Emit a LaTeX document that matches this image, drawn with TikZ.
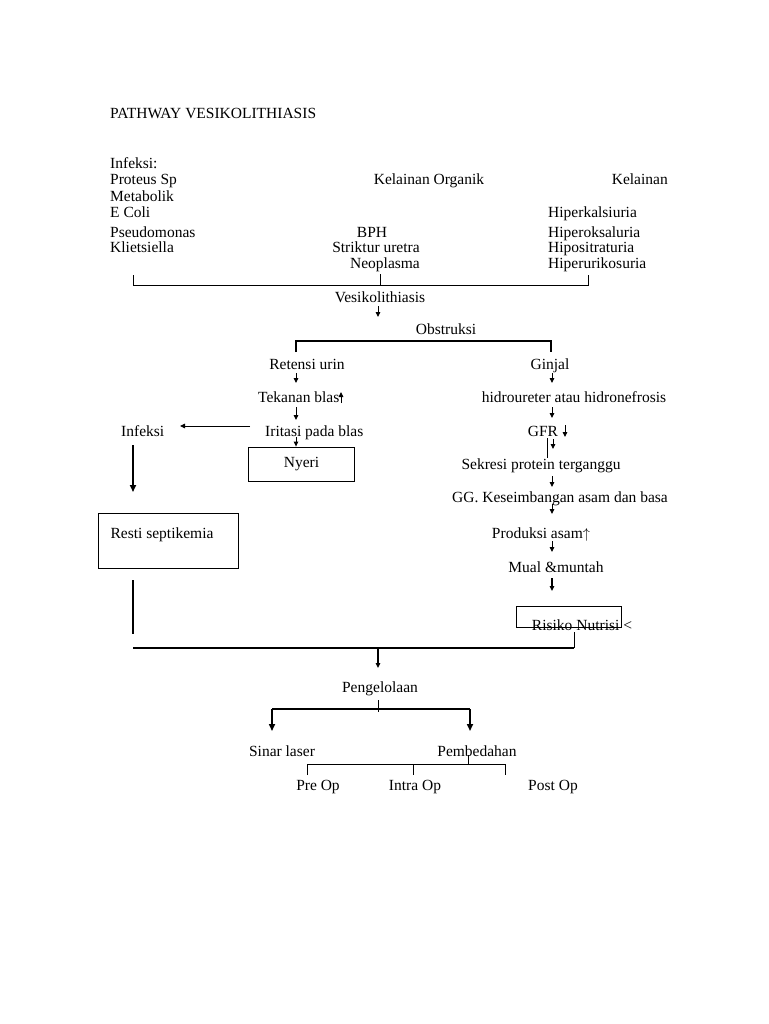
\documentclass[tikz,border=0pt]{standalone}
\usepackage{fontspec}
\setmainfont{Liberation Serif}
\usetikzlibrary{arrows.meta,calc}
\begin{document}
\begin{tikzpicture}[x=1pt,y=-1pt,
  every node/.style={font=\fontsize{15.5}{17}\selectfont, inner sep=1pt, text height=11pt, text depth=3.5pt},
  lt/.style={anchor=west},
  arr/.style={-{Triangle[length=5pt,width=4.5pt]}, line width=0.9pt},
  bigarr/.style={-{Triangle[length=7pt,width=6pt]}, line width=1.6pt},
  heavy/.style={line width=1.8pt},
  thin/.style={line width=0.8pt},
  boxed/.style={draw, line width=0.8pt}
]
\useasboundingbox[fill=white] (0,0) rectangle (768,1024);

% header
\node[lt] (title) at (109,115) {PATHWAY VESIKOLITHIASIS};
\node[lt] (inf) at (109,165) {Infeksi:};
\node[lt] (prot) at (109,181) {Proteus Sp};
\node[lt] (meta) at (109,198) {Metabolik};
\node[lt] (ecoli) at (109,214) {E Coli};
\node[lt] (pseu) at (109,234) {Pseudomonas};
\node[lt] (kliet) at (109,249) {Klietsiella};
\node (ko) at (429,181) {Kelainan Organik};
\node[anchor=east] (kel) at (669,181) {Kelainan};
\node (bph) at (372,234) {BPH};
\node (str) at (376,249) {Striktur uretra};
\node (neo) at (385,265) {Neoplasma};
\node[lt] (hk) at (547,214) {Hiperkalsiuria};
\node[lt] (ho) at (547,234) {Hiperoksaluria};
\node[lt] (hs) at (547,249) {Hipositraturia};
\node[lt] (hu) at (547,265) {Hiperurikosuria};

% bracket 1
\coordinate (b1l) at (133,275);
\coordinate (b1r) at (588,275);
\coordinate (b1c) at (380,285);
\draw[thin] (b1l) -- (133,285) -- (588,285) -- (b1r);
\draw[thin] (380,274) -- (b1c);

\node (vesi) at (380,299) {Vesikolithiasis};
\node (obs) at (446,331) {Obstruksi};
\draw[arr] (378,306) -- (378,317);

% bracket 2
\coordinate (b2l) at (296,352);
\coordinate (b2r) at (551,352);
\draw[line width=1.4pt] (b2l) -- (296,341) -- (551,341) -- (b2r);

% left branch
\node (ret) at (307,366) {Retensi urin};
\node[lt] (tek) at (257,399) {Tekanan blas};
\node[lt] (iri) at (264,433) {Iritasi pada blas};
\node[lt] (inf2) at (120,433) {Infeksi};
\node[boxed, minimum width=106pt, minimum height=34pt] (nyeri) at (301.5,464) {Nyeri};
\draw[arr] (296,373) -- (296,383);
\draw[arr] (341,403) -- (341,392);
\draw[arr] (296,407) -- (296,420);
\draw[arr] (296,437) -- (nyeri.north -| 296,0);
\draw[arr] (250,426) -- (180,426);
\draw[bigarr] (133,445) -- (133,492);
\node[boxed, minimum width=140pt, minimum height=55pt] (resti) at (168,541) {};
\node (restit) at (162,535) {Resti septikemia};
\coordinate (lv1) at (133,580);
\coordinate (lv2) at (133,634);
\draw[heavy] (lv1) -- (lv2);

% right branch
\node (gin) at (550,366) {Ginjal};
\node (hid) at (574,399) {hidroureter atau hidronefrosis};
\node (gfr) at (543,433) {GFR};
\node (sek) at (541,466) {Sekresi protein terganggu};
\node (gg) at (560,499) {GG. Keseimbangan asam dan basa};
\node (prod) at (541,535) {Produksi asam$\uparrow$};
\node (mual) at (556,569) {Mual \&muntah};
\draw[arr] (552,373) -- (552,383);
\draw[arr] (552,407) -- (552,418);
\draw[arr] (565,425) -- (565,437);
\draw[line width=0.5pt] (547,438) -- (547,458);
\draw[arr] (553,439) -- (553,449);
\draw[arr] (552,476) -- (552,487);
\draw[arr] (552,504) -- (552,514);
\draw[arr] (552,541) -- (552,552);
\draw[arr, line width=1.3pt] (552,578) -- (552,591);
\node[draw, line width=0.7pt, minimum width=105pt, minimum height=21pt, text height=0pt, text depth=0pt, inner sep=0pt] (risbox) at (568.5,617) {};
\draw[line width=1.6pt] (516.5,606.5) -- (516.5,627.5);
\node (ris) at (582,627) {Risiko Nutrisi <};
\coordinate (rv) at (574,648);
\draw[line width=0.5pt] (574,632) -- (rv);

% bottom merge
\coordinate (ml) at (133,648);
\coordinate (mc) at (378,648);
\draw[heavy] (ml) -- (rv);
\node (peng) at (380,689) {Pengelolaan};
\draw[arr, line width=1.3pt] (mc) -- (378,668);

\coordinate (pl) at (272,709);
\coordinate (pr) at (470,709);
\draw[heavy] (pl) -- (pr);
\draw[thin] (378,700) -- (378,712);
\node (sin) at (282,753) {Sinar laser};
\node (pem) at (477,753) {Pembedahan};
\draw[bigarr] (pl) -- (272,731);
\draw[bigarr] (pr) -- (470,731);

\coordinate (ol) at (307,764);
\coordinate (or) at (505,764);
\draw[thin] (307,775) -- (ol) -- (or) -- (505,775);
\draw[thin] (413,764) -- (413,775);
\draw[thin] (468,755) -- (468,764);
\node (pre) at (318,787) {Pre Op};
\node (intra) at (415,787) {Intra Op};
\node (post) at (553,787) {Post Op};
\end{tikzpicture}
\end{document}
